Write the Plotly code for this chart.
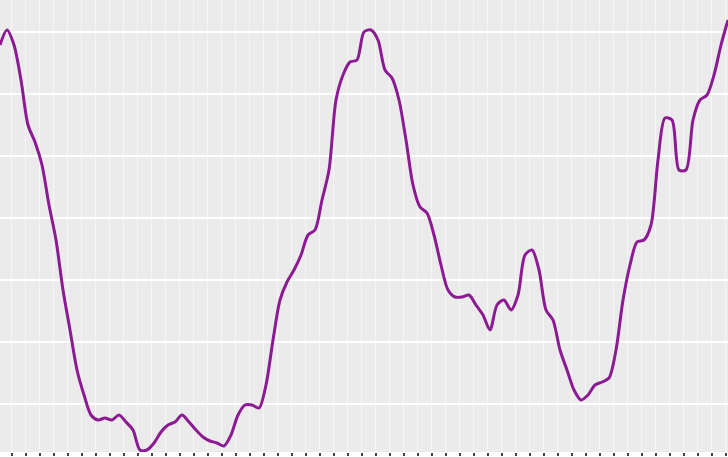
import plotly.graph_objects as go

# readings: one sample every 7 px across the plot
values = [407, 422, 407, 372, 327, 310, 287, 247, 212, 162, 122, 82, 57, 37, 32, 34,
          32, 37, 30, 22, 2, 2, 9, 20, 27, 30, 37, 30, 22, 15, 11, 9, 6, 17, 37, 47,
          47, 44, 67, 112, 152, 170, 182, 197, 217, 222, 252, 282, 352, 377, 390, 392,
          420, 422, 412, 382, 374, 352, 312, 267, 245, 239, 217, 187, 162, 155, 155,
          157, 147, 137, 122, 147, 152, 142, 157, 197, 202, 182, 142, 132, 102, 82, 62,
          52, 57, 67, 70, 74, 102, 152, 187, 210, 212, 227, 292, 334, 332, 282, 282,
          332, 352, 357, 377, 407, 432]
steps = list(range(len(values)))

fig = go.Figure(go.Scatter(
    x=steps, y=values, mode="lines",
    line=dict(color="#8B1A93", width=3, shape="spline", smoothing=0.8),
    hoverinfo="skip"))

fig.update_layout(
    width=728, height=457, showlegend=False,
    margin=dict(l=0, r=0, t=0, b=5),
    paper_bgcolor="white", plot_bgcolor="#EBEBEB",
    xaxis=dict(range=[0, len(values) - 1], tick0=1.7, dtick=2, showticklabels=False,
               ticks="outside", ticklen=3, tickwidth=1.5, tickcolor="#444444",
               gridcolor="#F6F6F6", gridwidth=1.2, zeroline=False),
    yaxis=dict(range=[0, 452], tick0=48, dtick=62, showticklabels=False,
               gridcolor="white", gridwidth=1.5, zeroline=False),
)

fig.write_html("out.html", config={"displayModeBar": False},
               post_script="document.body.style.margin='0';")
